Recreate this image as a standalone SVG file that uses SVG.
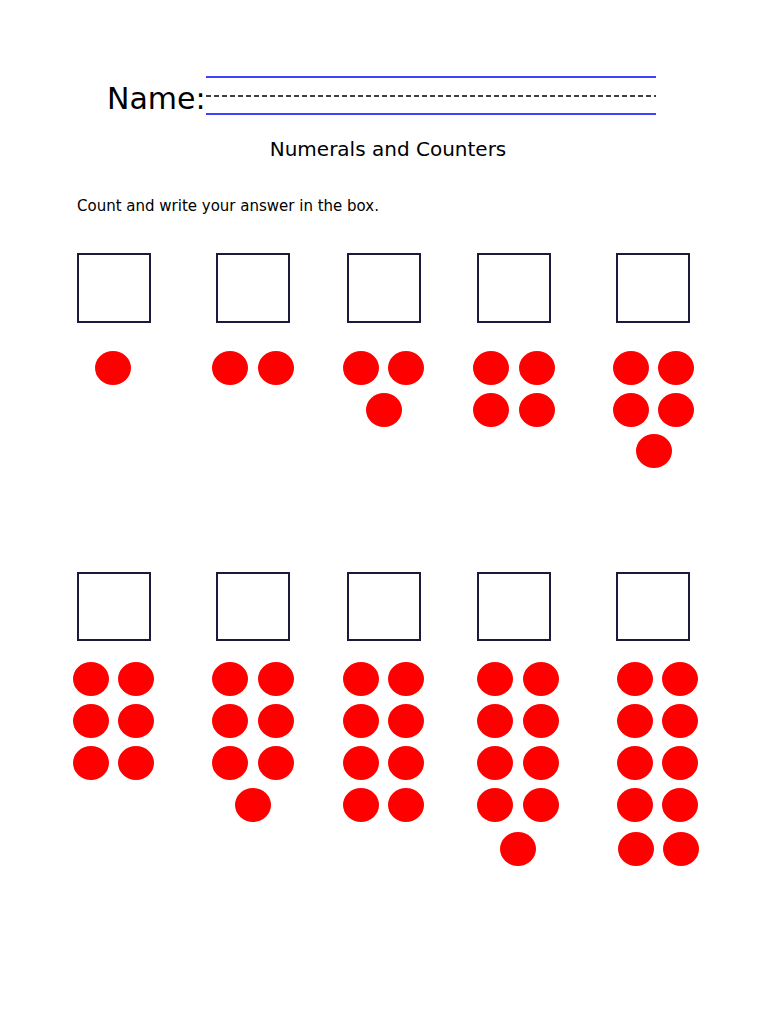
<svg xmlns="http://www.w3.org/2000/svg" width="768" height="1024" viewBox="0 0 768 1024">
<style>
.box{fill:none;stroke:#1a1a3a;stroke-width:2}
.d{fill:#ff0000}
text{font-family:"DejaVu Sans","Liberation Sans",sans-serif;fill:#000}
</style>
<defs><ellipse id="c" rx="18" ry="17" class="d"/></defs>
<rect width="768" height="1024" fill="#fff"/>
<g id="header">
<text x="107" y="109" font-size="30">Name:</text>
<line x1="206" y1="77" x2="656" y2="77" stroke="#0000ff" stroke-width="1.5"/>
<line x1="206" y1="96" x2="656" y2="96" stroke="#000" stroke-width="1.5" stroke-dasharray="5,3"/>
<line x1="206" y1="114" x2="656" y2="114" stroke="#0000ff" stroke-width="1.5"/>
<text x="388" y="156" font-size="20" text-anchor="middle">Numerals and Counters</text>
<text x="77" y="211" font-size="15">Count and write your answer in the box.</text>
</g>
<g id="boxes">
<rect class="box" x="78" y="254" width="72" height="68"/>
<rect class="box" x="217" y="254" width="72" height="68"/>
<rect class="box" x="348" y="254" width="72" height="68"/>
<rect class="box" x="478" y="254" width="72" height="68"/>
<rect class="box" x="617" y="254" width="72" height="68"/>
<rect class="box" x="78" y="573" width="72" height="67"/>
<rect class="box" x="217" y="573" width="72" height="67"/>
<rect class="box" x="348" y="573" width="72" height="67"/>
<rect class="box" x="478" y="573" width="72" height="67"/>
<rect class="box" x="617" y="573" width="72" height="67"/>
</g>
<g id="counters">
<use href="#c" x="113" y="368"/>
<use href="#c" x="230" y="368"/><use href="#c" x="276" y="368"/>
<use href="#c" x="361" y="368"/><use href="#c" x="406" y="368"/><use href="#c" x="384" y="410"/>
<use href="#c" x="491" y="368"/><use href="#c" x="537" y="368"/><use href="#c" x="491" y="410"/><use href="#c" x="537" y="410"/>
<use href="#c" x="631" y="368"/><use href="#c" x="676" y="368"/><use href="#c" x="631" y="410"/><use href="#c" x="676" y="410"/><use href="#c" x="654" y="451"/>
<use href="#c" x="91" y="679"/><use href="#c" x="136" y="679"/><use href="#c" x="91" y="721"/><use href="#c" x="136" y="721"/><use href="#c" x="91" y="763"/><use href="#c" x="136" y="763"/>
<use href="#c" x="230" y="679"/><use href="#c" x="276" y="679"/><use href="#c" x="230" y="721"/><use href="#c" x="276" y="721"/><use href="#c" x="230" y="763"/><use href="#c" x="276" y="763"/><use href="#c" x="253" y="805"/>
<use href="#c" x="361" y="679"/><use href="#c" x="406" y="679"/><use href="#c" x="361" y="721"/><use href="#c" x="406" y="721"/><use href="#c" x="361" y="763"/><use href="#c" x="406" y="763"/><use href="#c" x="361" y="805"/><use href="#c" x="406" y="805"/>
<use href="#c" x="495" y="679"/><use href="#c" x="541" y="679"/><use href="#c" x="495" y="721"/><use href="#c" x="541" y="721"/><use href="#c" x="495" y="763"/><use href="#c" x="541" y="763"/><use href="#c" x="495" y="805"/><use href="#c" x="541" y="805"/><use href="#c" x="518" y="849"/>
<use href="#c" x="635" y="679"/><use href="#c" x="680" y="679"/><use href="#c" x="635" y="721"/><use href="#c" x="680" y="721"/><use href="#c" x="635" y="763"/><use href="#c" x="680" y="763"/><use href="#c" x="635" y="805"/><use href="#c" x="680" y="805"/><use href="#c" x="636" y="849"/><use href="#c" x="681" y="849"/>
</g>
</svg>
